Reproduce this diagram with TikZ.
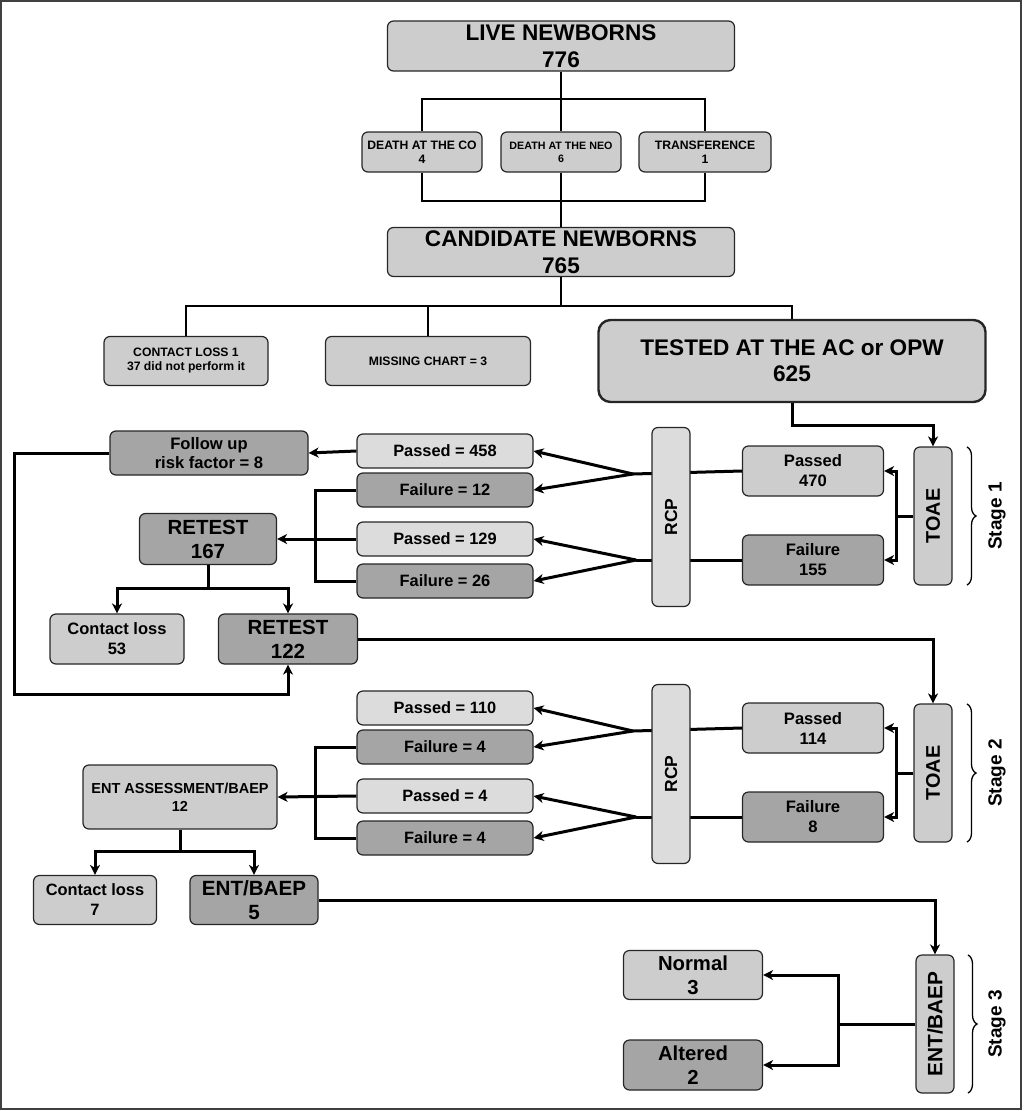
\documentclass[tikz,border=0pt]{standalone}
\usepackage{fontspec}
\usepackage{graphicx}
\setmainfont{Liberation Sans}
\usetikzlibrary{arrows.meta,decorations.pathreplacing}

\definecolor{boxlite}{HTML}{CDCDCD}
\definecolor{boxdark}{HTML}{A5A5A5}
\definecolor{boxpale}{HTML}{DCDCDC}
\newcommand{\fsz}[2]{\fontsize{#1}{#2}\selectfont}

\tikzset{
  box/.style={draw=black!85, line width=1.2pt, rounded corners=6pt, fill=boxlite,
    align=center, inner sep=0pt, font=\bfseries},
  dark/.style={box, fill=boxdark},
  pale/.style={box, fill=boxpale},
  link/.style={line width=2pt},
  flow/.style={line width=3pt},
  arr/.style={flow, -{Stealth[length=10pt,width=10pt,inset=3pt]}},
  stagebrace/.style={decorate, decoration={brace, amplitude=9pt}, line width=1.3pt},
  stagelabel/.style={rotate=90, font=\bfseries\fsz{19}{20}},
}

\begin{document}
\begin{tikzpicture}[x=1pt, y=-1pt]
  \useasboundingbox (0,0) rectangle (1023,1111);
  \draw[line width=2pt, black!75] (1,1) rectangle (1021,1109);

  % newborns
  \node[box, minimum width=347, minimum height=50, font=\bfseries\fsz{22.6}{27}] (live) at (561,46) {LIVE NEWBORNS\\776};
  \node[box, minimum width=120, minimum height=40, font=\bfseries\fsz{12.2}{14}] (co) at (422,152) {DEATH AT THE CO\\4};
  \node[box, minimum width=120, minimum height=40, font=\bfseries\fsz{10.7}{13}] (neo) at (561,152) {DEATH AT THE NEO\\6};
  \node[box, minimum width=132, minimum height=40, font=\bfseries\fsz{12.2}{14}] (tr) at (705,152) {TRANSFERENCE\\1};
  \node[box, minimum width=347, minimum height=49, font=\bfseries\fsz{22.6}{27}] (cand) at (561,252) {CANDIDATE NEWBORNS\\765};
  \node[box, minimum width=164, minimum height=49, font=\bfseries\fsz{12.2}{14}] (cl1) at (186,361) {CONTACT LOSS 1\\37 did not perform it};
  \node[box, minimum width=205, minimum height=49, font=\bfseries\fsz{12.2}{14}] (mc) at (428,361) {MISSING CHART = 3};
  \node[box, minimum width=387, minimum height=82, line width=2.4pt, rounded corners=12pt,
    font=\bfseries\fsz{22.6}{26}] (tested) at (792,361) {TESTED AT THE AC or OPW\\625};

  \draw[link] (live.south) -- (neo.north);
  \draw[link] (co.north) -- ++(0,-32) -| (tr.north);
  \draw[link] (neo.south) -- (cand.north);
  \draw[link] (co.south) -- ++(0,28) -| (tr.south);
  \draw[link] (cand.south) -- ++(0,30);
  \draw[link] (cl1.north) -- ++(0,-30) -| (tested.north);
  \draw[link] (mc.north) -- ++(0,-30);

  % stages 1 and 2
  \foreach \s/\dy/\np/\nf/\na/\nb/\nc/\nd in {1/0/470/155/458/12/129/26, 2/257/114/8/110/4/4/4} {
    \node[box, minimum width=38, minimum height=138, font=\bfseries\fsz{19.8}{20}] (toae\s) at (933,516+\dy) {\rotatebox{90}{TOAE}};
    \node[box, minimum width=141, minimum height=50, font=\bfseries\fsz{16.6}{20}] (pas\s) at (813,471+\dy) {Passed\\\np};
    \node[dark, minimum width=141, minimum height=50, font=\bfseries\fsz{16.6}{20}] (fai\s) at (813,560+\dy) {Failure\\\nf};
    \node[pale, minimum width=176, minimum height=34, font=\bfseries\fsz{16.4}{18}] (ra\s) at (445,451+\dy) {Passed = \na};
    \node[dark, minimum width=176, minimum height=34, font=\bfseries\fsz{16.4}{18}] (rb\s) at (445,490+\dy) {Failure = \nb};
    \node[pale, minimum width=176, minimum height=34, font=\bfseries\fsz{16.4}{18}] (rc\s) at (445,539+\dy) {Passed = \nc};
    \node[dark, minimum width=176, minimum height=34, font=\bfseries\fsz{16.4}{18}] (rd\s) at (445,581+\dy) {Failure = \nd};
    \coordinate (fa\s) at (633,474+\dy);
    \coordinate (fb\s) at (636,560+\dy);
    \draw[flow] (pas\s.west) -- (fa\s);
    \draw[flow] (fai\s.west) -- (fb\s);
    \node[pale, minimum width=38, minimum height=179, font=\bfseries\fsz{17.5}{18}] (rcp\s) at (671,517+\dy) {\rotatebox{90}{RCP}};
    \draw[flow] (toae\s.west) -- ++(-17,0) coordinate (tj\s);
    \draw[arr] (tj\s) |- (pas\s.east);
    \draw[arr] (tj\s) |- (fai\s.east);
    \draw[arr] (fa\s) -- (ra\s.east);
    \draw[arr] (fa\s) -- (rb\s.east);
    \draw[arr] (fb\s) -- (rc\s.east);
    \draw[arr] (fb\s) -- (rd\s.east);
    \draw[flow] (rb\s.west) -- ++(-41,0) |- (rd\s.west);
    \draw[stagebrace] (967,447+\dy) -- (967,585+\dy);
    \node[stagelabel] (stage\s) at (997,516+\dy) {Stage \s};
  }
  \draw[arr] (tested.south) -- ++(0,22) -| (toae1.north);

  % retests
  \node[dark, minimum width=198, minimum height=44, font=\bfseries\fsz{16.6}{19}] (follow) at (209,453) {Follow up\\risk factor = 8};
  \node[dark, minimum width=137, minimum height=51, font=\bfseries\fsz{20.5}{24}] (rt167) at (208,539) {RETEST\\167};
  \node[box, minimum width=134, minimum height=50, font=\bfseries\fsz{16.5}{20}] (cl53) at (117,639) {Contact loss\\53};
  \node[dark, minimum width=139, minimum height=50, font=\bfseries\fsz{20.5}{24}] (rt122) at (288,639) {RETEST\\122};
  \draw[arr] (ra1.west) -- (follow.east);
  \draw[arr] (follow.west) -- ++(-95,0) -- ++(0,241) -| (rt122.south);
  \draw[arr] (rc1.west) -- (rt167.east);
  \draw[flow] (rt167.south) -- ++(0,23) coordinate (rsplit);
  \draw[arr] (rsplit) -| (cl53.north);
  \draw[arr] (rsplit) -| (rt122.north);
  \draw[arr] (rt122.east) -| (toae2.north);

  \node[box, minimum width=194, minimum height=64, font=\bfseries\fsz{14.5}{18}] (ent) at (180,797) {ENT ASSESSMENT/BAEP\\12};
  \node[box, minimum width=123, minimum height=49, font=\bfseries\fsz{16.4}{20}] (cl7) at (95,900) {Contact loss\\7};
  \node[dark, minimum width=128, minimum height=49, font=\bfseries\fsz{20.6}{24}] (baep5) at (254,900) {ENT/BAEP\\5};
  \draw[arr] (rc2.west) -- (ent.east);
  \draw[flow] (ent.south) -- ++(0,22) coordinate (esplit);
  \draw[arr] (esplit) -| (cl7.north);
  \draw[arr] (esplit) -| (baep5.north);

  % stage 3
  \node[box, minimum width=38, minimum height=138, font=\bfseries\fsz{20.8}{21}] (baep3) at (935,1024) {\rotatebox{90}{ENT/BAEP}};
  \node[box, minimum width=139, minimum height=49, font=\bfseries\fsz{20.3}{24}] (normal) at (693,975) {Normal\\3};
  \node[dark, minimum width=139, minimum height=50, font=\bfseries\fsz{20.3}{24}] (altered) at (693,1065) {Altered\\2};
  \draw[arr] (baep5.east) -| (baep3.north);
  \draw[flow] (baep3.west) -- ++(-77,0) coordinate (nj);
  \draw[arr] (nj) |- (normal.east);
  \draw[arr] (nj) |- (altered.east);
  \draw[stagebrace] (968,955) -- (968,1093);
  \node[stagelabel] (stage3) at (997,1024) {Stage 3};
\end{tikzpicture}
\end{document}
